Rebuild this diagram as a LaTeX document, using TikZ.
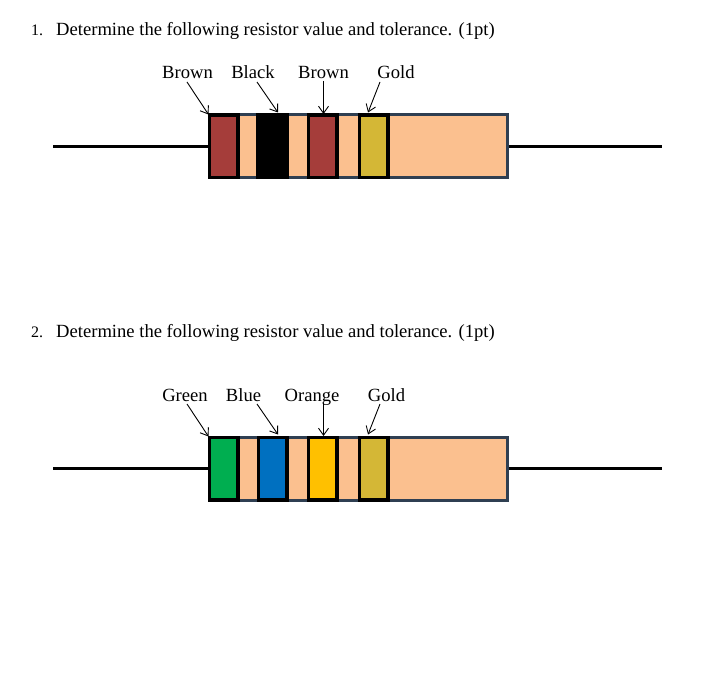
\documentclass[tikz,border=0pt]{standalone}
\usepackage{fontspec}
\usetikzlibrary{arrows.meta}
\setmainfont{Liberation Serif}
\tikzset{
	resbody/.style={draw=bodyedge, rectangle, line width=3pt, fill=bodytan, inner sep=0pt, minimum width=298pt, minimum height=63pt},
	band/.style={draw=black, rectangle, line width=3.4pt, inner sep=0pt, minimum width=28.4pt, minimum height=62.6pt},
	lead/.style={line width=3.6pt},
	colorname/.style={anchor=base, inner sep=0pt, font=\fontsize{18.6}{20}\selectfont},
	question/.style={anchor=base west, inner sep=0pt, font=\fontsize{18.6}{20}\selectfont},
	qnum/.style={anchor=base west, inner sep=0pt, font=\fontsize{16}{18}\selectfont},
	pointer/.style={-{Straight Barb[length=7pt, width=10pt]}, line width=0.9pt}
}
\definecolor{bodyedge}{HTML}{2F3F52}
\definecolor{bodytan}{HTML}{FBC08F}
\definecolor{brownband}{HTML}{A53D3A}
\definecolor{goldband}{HTML}{D4B736}
\definecolor{greenband}{HTML}{00AE50}
\definecolor{blueband}{HTML}{0070C0}
\definecolor{orangeband}{HTML}{FFC000}
\begin{document}
\begin{tikzpicture}[x=1pt, y=-1pt]
	\useasboundingbox (0, 0) rectangle (728, 687);
	% first resistor
	\node[qnum] (NA)at(31, 36) {1.};
	\node[question] (QA)at(56, 36) {Determine the following resistor value and tolerance. (1pt)};
	\coordinate (LA1)at(53, 146.5);
	\coordinate (LA2)at(662, 146.5);
	\node[resbody] (RA)at(358.2, 146.5) {};
	\draw[lead] (LA1) -- (RA.west);
	\draw[lead] (RA.east) -- (LA2);
	\node[band, fill=brownband] (A1)at(223.7, 146.5) {};
	\node[band, fill=black, minimum width=30pt] (A2)at(272.5, 146.5) {};
	\node[band, fill=brownband] (A3)at(322.7, 146.5) {};
	\node[band, fill=goldband] (A4)at(373.7, 146.5) {};
	\node[colorname] (TA1)at(187.5, 79) {Brown};
	\node[colorname] (TA2)at(253, 79) {Black};
	\node[colorname] (TA3)at(323.5, 79) {Brown};
	\node[colorname] (TA4)at(396, 79) {Gold};
	\coordinate (PA1)at(208.5, 114.5);
	\coordinate (PA2)at(278, 112.5);
	\coordinate (PA3)at(323.5, 114);
	\coordinate (PA4)at(368, 112.5);
	\draw[pointer] (187, 82) -- (PA1);
	\draw[pointer] (257, 82) -- (PA2);
	\draw[pointer] (323.5, 81) -- (PA3);
	\draw[pointer] (380, 82) -- (PA4);
	% second resistor
	\node[qnum] (NB)at(31, 337) {2.};
	\node[question] (QB)at(56, 337) {Determine the following resistor value and tolerance. (1pt)};
	\coordinate (LB1)at(53, 468.5);
	\coordinate (LB2)at(662, 468.5);
	\node[resbody] (RB)at(358.2, 468.5) {};
	\draw[lead] (LB1) -- (RB.west);
	\draw[lead] (RB.east) -- (LB2);
	\node[band, fill=greenband] (B1)at(223.7, 468.5) {};
	\node[band, fill=blueband] (B2)at(272.7, 468.5) {};
	\node[band, fill=orangeband] (B3)at(322.7, 468.5) {};
	\node[band, fill=goldband] (B4)at(373.7, 468.5) {};
	\node[colorname] (TB1)at(185, 401) {Green};
	\node[colorname] (TB2)at(243.5, 401) {Blue};
	\node[colorname] (TB3)at(312, 401) {Orange};
	\node[colorname] (TB4)at(386.5, 401) {Gold};
	\coordinate (PB1)at(208.5, 436.5);
	\coordinate (PB2)at(278, 434.5);
	\coordinate (PB3)at(323.5, 436);
	\coordinate (PB4)at(368, 434.5);
	\draw[pointer] (187, 404) -- (PB1);
	\draw[pointer] (257, 404) -- (PB2);
	\draw[pointer] (323.5, 403) -- (PB3);
	\draw[pointer] (380, 404) -- (PB4);
\end{tikzpicture}
\end{document}
